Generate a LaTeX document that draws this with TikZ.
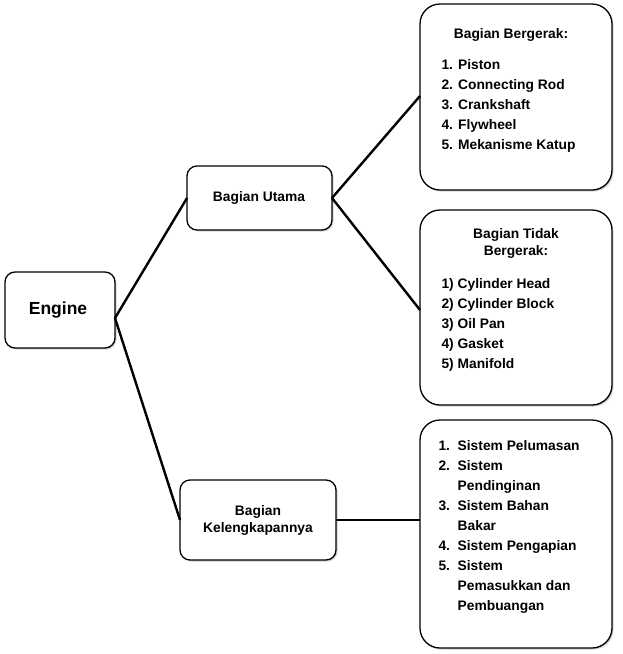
\documentclass[tikz,border=0pt]{standalone}
\usepackage{fontspec}
\setmainfont{Liberation Sans}
\usetikzlibrary{shadows}
\begin{document}
\begin{tikzpicture}[x=1pt,y=-1pt,
 box/.style={draw,line width=1.3pt,rounded corners=14pt,fill=white,drop shadow={shadow xshift=1.5pt,shadow yshift=-1.5pt,opacity=0.35}},
 txt/.style={font=\bfseries\fontsize{13.8}{20}\selectfont,align=left},
 con/.style={line width=2.4pt}]
\useasboundingbox (0,0) rectangle (622,654);
\fill[white] (0,0) rectangle (622,654);
\draw[box,rounded corners=10pt] (5,272) rectangle (115,348);
\draw[box,rounded corners=10pt] (187,166) rectangle (332,230);
\draw[box,rounded corners=10pt] (180,480) rectangle (336,560);
\draw[box,rounded corners=20pt] (420,4) rectangle (612,190);
\draw[box,rounded corners=20pt] (420,210) rectangle (612,405);
\draw[box,rounded corners=20pt] (420,420) rectangle (612,648);
\node[font=\bfseries\fontsize{17.5}{20}\selectfont] (eng) at (58,310) {Engine};
\node[txt] (ut) at (259,198) {Bagian Utama};
\node[txt,align=center] (kl) at (258,520) {Bagian\\[-3pt]Kelengkapannya};
\coordinate (e) at (115,318);
\coordinate (utl) at (187,198);
\coordinate (utr) at (332,198);
\coordinate (kll) at (180,520);
\coordinate (klr) at (336,520);
\coordinate (b1) at (420,96);
\coordinate (b2) at (420,310);
\coordinate (b3) at (420,520);
\node[txt,align=center] (h1) at (511,35) {Bagian Bergerak:};
\node[txt,anchor=north west] (l1) at (438,56) {1. Piston\\2. Connecting Rod\\3. Crankshaft\\4. Flywheel\\5. Mekanisme Katup};
\node[txt,align=center] (h2) at (516,243) {Bagian Tidak\\[-3pt]Bergerak:};
\node[txt,anchor=north west] (l2) at (438,275) {1) Cylinder Head\\2) Cylinder Block\\3) Oil Pan\\4) Gasket\\5) Manifold};
\node[txt,anchor=north west] (l3) at (435,437) {1.~~Sistem Pelumasan\\2.~~Sistem\\\phantom{2.~~}Pendinginan\\3.~~Sistem Bahan\\\phantom{3.~~}Bakar\\4.~~Sistem Pengapian\\5.~~Sistem\\\phantom{5.~~}Pemasukkan dan\\\phantom{5.~~}Pembuangan};
\draw[con] (e) -- (utl);
\draw[con] (e) -- (kll);
\draw[con] (utr) -- (b1);
\draw[con] (utr) -- (b2);
\draw[con] (klr) -- (b3);
\end{tikzpicture}
\end{document}
